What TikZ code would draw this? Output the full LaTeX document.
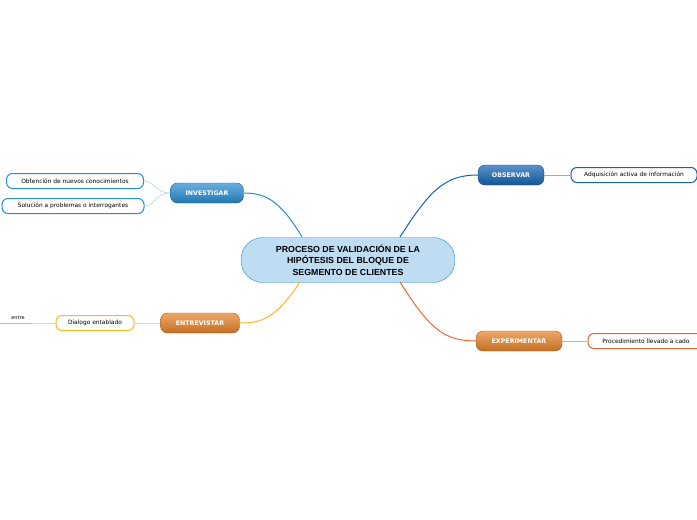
\documentclass[tikz,border=0pt]{standalone}
\usepackage{fontspec}
\setmainfont{DejaVu Sans}
\newfontfamily\centralfont{Liberation Sans}
\begin{document}
\begin{tikzpicture}[x=1pt,y=-1pt,
 main/.style={rounded corners=7pt,draw=#1!70!black,top color=#1!70!white,bottom color=#1!85!black,text=white,font=\bfseries\fontsize{6.3}{8}\selectfont,minimum height=20pt,inner sep=0pt},
 sub/.style={rounded corners=6pt,draw=#1,line width=1pt,fill=white,font=\fontsize{5.9}{8}\selectfont,minimum height=15pt,inner sep=0pt}]
\useasboundingbox (0,0) rectangle (697,520);
\definecolor{cblue}{RGB}{40,140,210}
\definecolor{dblue}{RGB}{20,100,180}
\definecolor{corng}{RGB}{230,130,40}
\definecolor{cred}{RGB}{235,100,50}
\definecolor{cyel}{RGB}{245,185,40}
\node[draw=cblue,fill=cblue!30,rounded corners=22pt,minimum width=214pt,minimum height=45pt,align=center,font=\centralfont\bfseries\fontsize{8.8}{11.5}\selectfont,inner sep=0pt] (c) at (348,260) {PROCESO DE VALIDACIÓN DE LA\\HIPÓTESIS DEL BLOQUE DE\\SEGMENTO DE CLIENTES};
\node[main=cblue,minimum width=73pt] (inv) at (207,193) {INVESTIGAR};
\node[sub=cblue,minimum width=137pt] (ob) at (75,181) {Obtención de nuevos conocimientos};
\node[sub=cblue,minimum width=142pt] (so) at (73,206) {Solución a problemas o interrogantes};
\node[main=corng,minimum width=79pt] (ent) at (200,323) {ENTREVISTAR};
\node[sub=cyel,minimum width=78pt] (dia) at (95,323) {Dialogo entablado};
\node[font=\fontsize{5}{6}\selectfont,inner sep=1pt,anchor=south] (en) at (18,321) {entre};
\coordinate (e0) at (0,323); \coordinate (e1) at (32,323);
\node[main=dblue,minimum width=66pt] (obs) at (511,175) {OBSERVAR};
\node[sub=dblue,minimum width=126pt] (adq) at (634,175) {Adquisición activa de información};
\node[main=corng,minimum width=86pt] (exp) at (519,341) {EXPERIMENTAR};
\node[sub=cred,minimum width=116pt] (pro) at (646,341) {Procedimiento llevado a cado};
\coordinate (c1) at (302,237); \coordinate (c2) at (400,237);
\coordinate (c3) at (300,282); \coordinate (c4) at (400,282);
\draw[cblue,line width=1pt] (c1) .. controls (280,200) and (265,193) .. (inv.east);
\draw[dblue,line width=1pt] (c2) .. controls (430,190) and (445,175) .. (obs.west);
\draw[cyel,line width=1pt] (c3) .. controls (275,320) and (260,323) .. (ent.east);
\draw[cred,line width=1pt] (c4) .. controls (430,330) and (445,341) .. (exp.west);
\draw[cblue!50] (inv.west) .. controls (155,193) and (155,181) .. (ob.east);
\draw[cblue!50] (inv.west) .. controls (155,193) and (155,206) .. (so.east);
\draw[dblue!50] (obs.east) -- (adq.west);
\draw[cred!60] (exp.east) -- (pro.west);
\draw[cyel!60] (ent.west) -- (dia.east);
\draw[cyel!60] (dia.west) -- (e1);
\draw[cyel,line width=1pt] (e0) -- (e1);
\end{tikzpicture}
\end{document}
